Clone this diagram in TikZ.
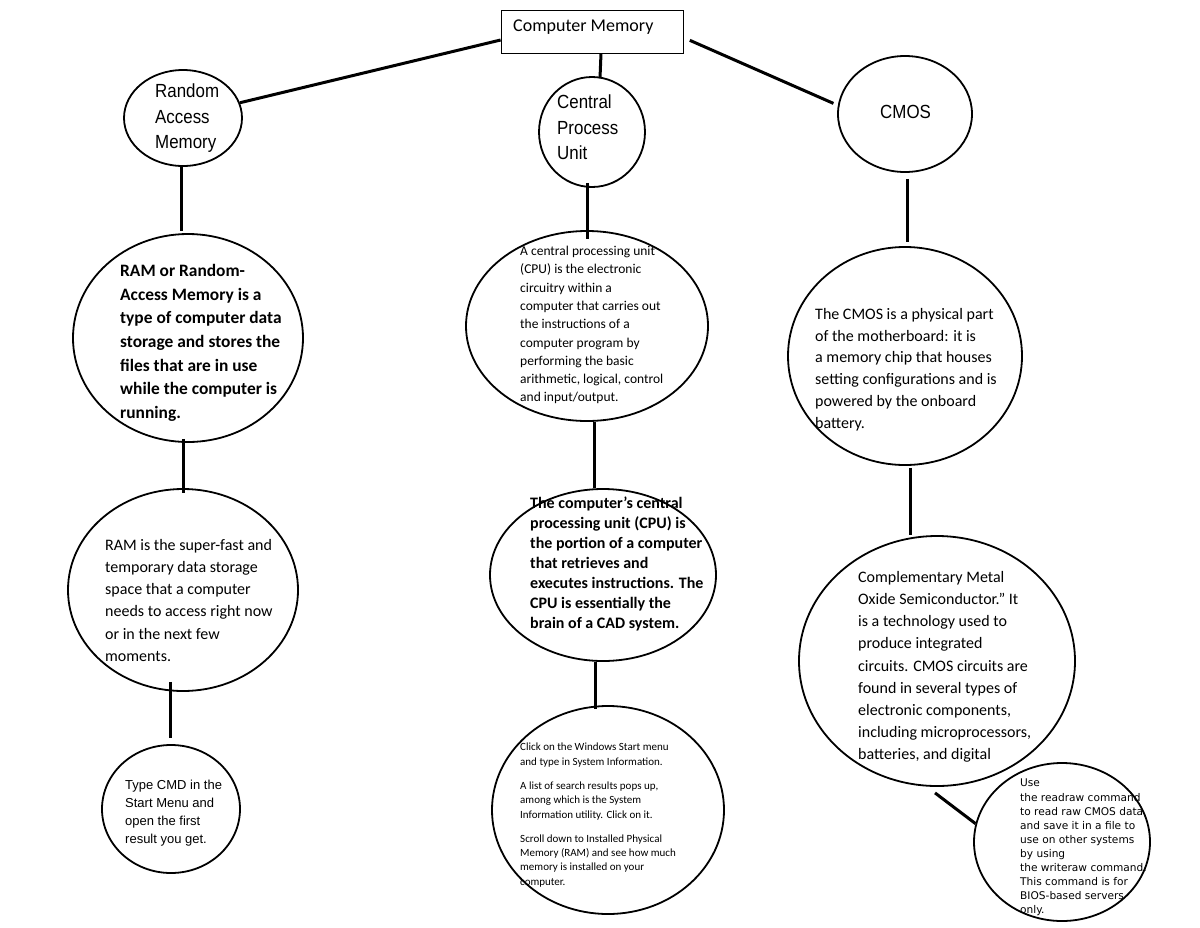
\documentclass[tikz,border=0pt]{standalone}
\usepackage{fontspec}
\setmainfont{Carlito}
\newfontfamily\narrowfont[FakeStretch=0.89]{Liberation Sans}
\newfontfamily\arialfont{Liberation Sans}
\newfontfamily\dejavufont{DejaVu Sans}
\usetikzlibrary{shapes.geometric}
\tikzset{
  ell/.style={draw, ellipse, line width=1.8pt, inner sep=0pt, fill=white},
  conn/.style={line width=3pt},
  txt/.style={inner sep=0pt, align=left, anchor=north west},
  toplabel/.style={txt, font={\narrowfont\fontsize{19}{25.5}\selectfont}},
}
\begin{document}
\begin{tikzpicture}[x=1pt, y=-1pt]
\fill[white] (0,0) rectangle (1200,927);
\useasboundingbox (0,0) rectangle (1200,927);

% top box
\node[draw, line width=0.8pt, minimum width=182pt, minimum height=43pt, inner sep=0pt] (box) at (592,31.5) {};

% ellipses
\node[ell, minimum width=118pt, minimum height=96pt] (ram) at (183,118) {};
\node[ell, minimum width=106pt, minimum height=110pt] (cpu) at (592,132) {};
\node[ell, minimum width=134pt, minimum height=116pt] (cmos) at (905,114) {};
\node[ell, minimum width=230pt, minimum height=208pt] (ramd) at (188,338) {};
\node[ell, minimum width=242pt, minimum height=190pt] (cpud) at (587,326) {};
\node[ell, minimum width=234pt, minimum height=218pt] (cmosd) at (905,356) {};
\node[ell, minimum width=230pt, minimum height=202pt] (ramb) at (183,590) {};
\node[ell, minimum width=226pt, minimum height=172pt] (cpub) at (603,575) {};
\node[ell, minimum width=276pt, minimum height=250pt] (cmosb) at (937,661) {};
\node[ell, minimum width=138pt, minimum height=128pt] (cmd) at (171,809) {};
\node[ell, minimum width=232pt, minimum height=208pt] (cpuc) at (608,810) {};
\node[ell, minimum width=176pt, minimum height=158pt] (cmosc) at (1062,842) {};

% connectors
\draw[conn] ([yshift=-8.5pt]box.west) -- (ram.15);
\draw[conn] ([xshift=9pt]box.south) -- ([xshift=8pt,yshift=-2pt]cpu.north);
\draw[conn, shorten <=7pt, shorten >=4pt] ([yshift=-6pt]box.east) -- ([yshift=9pt]cmos.west);
\draw[conn] ([xshift=-2pt,yshift=1pt]ram.south) -- ([xshift=-7pt,yshift=2pt]ramd.north);
\draw[conn] ([xshift=-5pt,yshift=4pt]ramd.south) -- ([yshift=-5pt]ramb.north);
\draw[conn] ([xshift=-13pt,yshift=10pt]ramb.south) -- ([xshift=-1pt,yshift=6pt]cmd.north);
\draw[conn] ([xshift=-5pt,yshift=5pt]cpu.south) -- ([yshift=-9pt]cpud.north);
\draw[conn] ([xshift=7pt]cpud.south) -- ([xshift=-9pt]cpub.north);
\draw[conn] ([xshift=-8pt]cpub.south) -- ([xshift=-13pt,yshift=-4pt]cpuc.north);
\draw[conn] ([xshift=2pt,yshift=-6pt]cmos.south) -- ([xshift=2pt,yshift=4pt]cmosd.north);
\draw[conn] ([xshift=5pt,yshift=-2pt]cmosd.south) -- ([xshift=-27pt]cmosb.north);
\draw[conn] ([xshift=-2pt,yshift=-6pt]cmosb.south) -- (cmosc.168);

% texts
\node[inner sep=0pt, anchor=west, font={\fontsize{18}{22}\selectfont}] (tbox) at (513,27) {Computer Memory};
\node[toplabel] (tram) at (155,84) {Random\\Access\\Memory};
\node[toplabel] (tcpu) at (557,95) {Central\\Process\\Unit};
\node[inner sep=0pt, anchor=west, font={\narrowfont\fontsize{19}{25.5}\selectfont}] (tcmos) at (880,112) {CMOS};

\node[txt, font={\fontsize{17.4}{23.7}\selectfont\bfseries}] (tramd) at (120,264)
  {RAM or Random-\\Access Memory is a\\type of computer data\\storage and stores the\\files that are in use\\while the computer is\\running.};
\node[txt, font={\fontsize{13.5}{18.3}\selectfont}] (tcpud) at (520,246)
  {A central processing unit\\(CPU) is the electronic\\circuitry within a\\computer that carries out\\the instructions of a\\computer program by\\performing the basic\\arithmetic, logical, control\\and input/output.};
\node[txt, font={\fontsize{16}{21.8}\selectfont}] (tcmosd) at (815,308)
  {The CMOS is a physical part\\of the motherboard: it is\\a memory chip that houses\\setting configurations and is\\powered by the onboard\\battery.};
\node[txt, font={\fontsize{16}{22.2}\selectfont}] (tramb) at (105,539)
  {RAM is the super-fast and\\temporary data storage\\space that a computer\\needs to access right now\\or in the next few\\moments.};
\node[txt, font={\fontsize{16}{20}\selectfont\bfseries}] (tcpub) at (530,497)
  {The computer's central\\processing unit (CPU) is\\the portion of a computer\\that retrieves and\\executes instructions. The\\CPU is essentially the\\brain of a CAD system.};
\node[txt, font={\fontsize{16}{22.2}\selectfont}] (tcmosb) at (858,571)
  {Complementary Metal\\Oxide Semiconductor." It\\is a technology used to\\produce integrated\\circuits. CMOS circuits are\\found in several types of\\electronic components,\\including microprocessors,\\batteries, and digital};
\node[txt, font={\arialfont\fontsize{13}{17.8}\selectfont}] (tcmd) at (125,780)
  {Type CMD in the\\Start Menu and\\open the first\\result you get.};
\node[txt, font={\fontsize{11}{14.3}\selectfont}] (tcpuc) at (520,743)
  {Click on the Windows Start menu\\and type in System Information.\\[10pt]A list of search results pops up,\\among which is the System\\Information utility. Click on it.\\[10pt]Scroll down to Installed Physical\\Memory (RAM) and see how much\\memory is installed on your\\computer.};
\node[txt, font={\dejavufont\fontsize{10.6}{14.1}\selectfont}] (tcmosc) at (1020,779)
  {Use\\the readraw command\\to read raw CMOS data\\and save it in a file to\\use on other systems\\by using\\the writeraw command.\\This command is for\\BIOS-based servers\\only.};
\end{tikzpicture}
\end{document}
